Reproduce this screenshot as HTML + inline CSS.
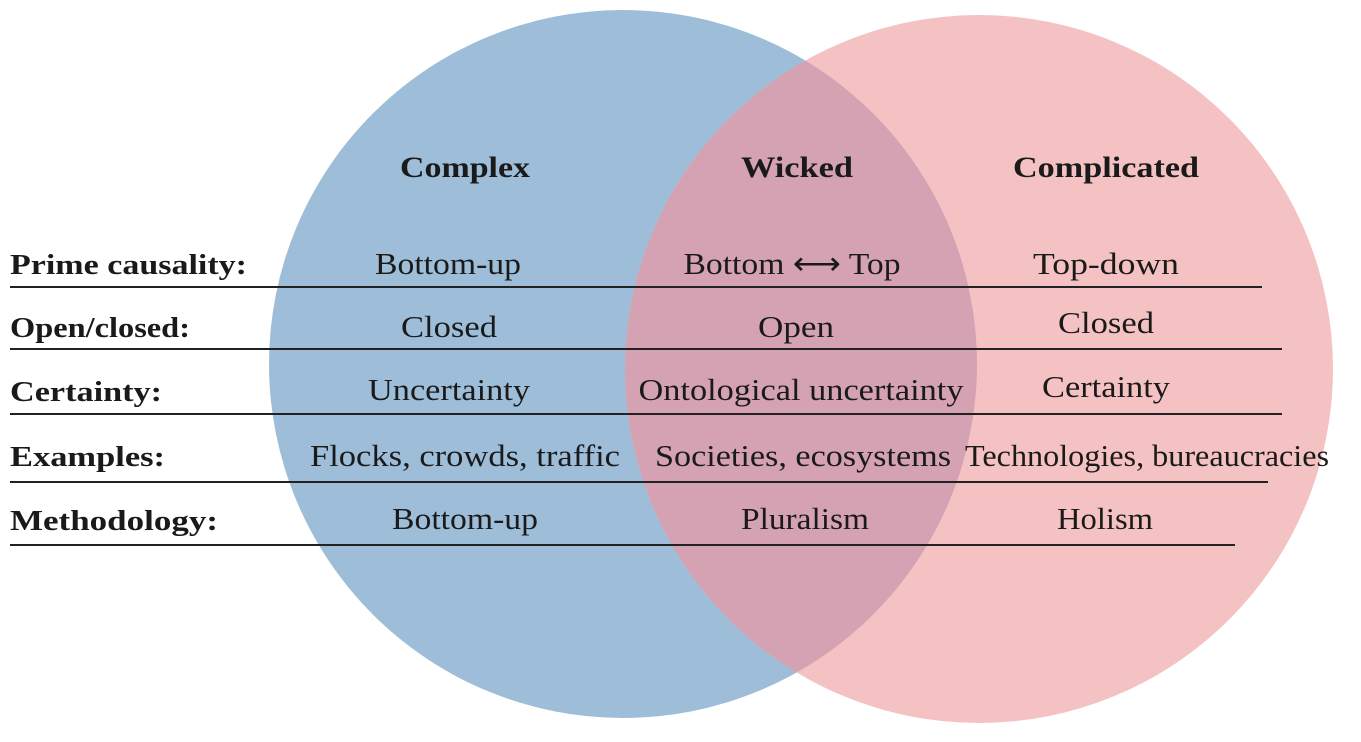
<!DOCTYPE html>
<html><head><style>body{margin:0;background:#fff}svg{display:block}</style></head><body>
<svg width="1361" height="742" viewBox="0 0 1361 742" xmlns="http://www.w3.org/2000/svg" font-family="Liberation Serif, serif" fill="#1a1a1a">
<circle cx="623" cy="364" r="354" fill="#9dbdd8"/>
<circle cx="979" cy="369" r="354" fill="#f5c2c3"/>
<clipPath id="c"><circle cx="623" cy="364" r="354"/></clipPath>
<circle cx="979" cy="369" r="354" fill="#d4a2b3" clip-path="url(#c)"/>
<g stroke="#222" stroke-width="2">
<line x1="10" y1="287" x2="1262" y2="287"/>
<line x1="10" y1="349" x2="1282" y2="349"/>
<line x1="10" y1="414" x2="1282" y2="414"/>
<line x1="10" y1="482" x2="1268" y2="482"/>
<line x1="10" y1="545" x2="1235" y2="545"/>
</g>
<g font-weight="bold" font-size="30" text-anchor="middle">
<text x="465" y="177" textLength="130" lengthAdjust="spacingAndGlyphs">Complex</text>
<text x="797" y="177" textLength="112" lengthAdjust="spacingAndGlyphs">Wicked</text>
<text x="1106" y="177" textLength="186" lengthAdjust="spacingAndGlyphs">Complicated</text>
</g>
<g font-weight="bold" font-size="29">
<text x="10" y="274" textLength="237" lengthAdjust="spacingAndGlyphs">Prime causality:</text>
<text x="10" y="337" textLength="180" lengthAdjust="spacingAndGlyphs">Open/closed:</text>
<text x="10" y="401" textLength="152" lengthAdjust="spacingAndGlyphs">Certainty:</text>
<text x="10" y="466" textLength="155" lengthAdjust="spacingAndGlyphs">Examples:</text>
<text x="10" y="530" textLength="208" lengthAdjust="spacingAndGlyphs">Methodology:</text>
</g>
<g font-size="31" text-anchor="middle">
<text x="448" y="274" textLength="146" lengthAdjust="spacingAndGlyphs">Bottom-up</text>
<text x="792" y="274" textLength="217" lengthAdjust="spacingAndGlyphs">Bottom ⟷ Top</text>
<text x="1106" y="274" textLength="146" lengthAdjust="spacingAndGlyphs">Top-down</text>
<text x="449" y="337" textLength="96" lengthAdjust="spacingAndGlyphs">Closed</text>
<text x="796" y="337" textLength="76" lengthAdjust="spacingAndGlyphs">Open</text>
<text x="1106" y="333" textLength="96" lengthAdjust="spacingAndGlyphs">Closed</text>
<text x="449" y="400" textLength="162" lengthAdjust="spacingAndGlyphs">Uncertainty</text>
<text x="801" y="400" textLength="325" lengthAdjust="spacingAndGlyphs">Ontological uncertainty</text>
<text x="1106" y="397" textLength="128" lengthAdjust="spacingAndGlyphs">Certainty</text>
<text x="465" y="466" textLength="310" lengthAdjust="spacingAndGlyphs">Flocks, crowds, traffic</text>
<text x="803" y="466" textLength="296" lengthAdjust="spacingAndGlyphs">Societies, ecosystems</text>
<text x="1147" y="466" textLength="364" lengthAdjust="spacingAndGlyphs">Technologies, bureaucracies</text>
<text x="465" y="529" textLength="146" lengthAdjust="spacingAndGlyphs">Bottom-up</text>
<text x="805" y="529" textLength="128" lengthAdjust="spacingAndGlyphs">Pluralism</text>
<text x="1105" y="529" textLength="96" lengthAdjust="spacingAndGlyphs">Holism</text>
</g>
</svg>
</body></html>
